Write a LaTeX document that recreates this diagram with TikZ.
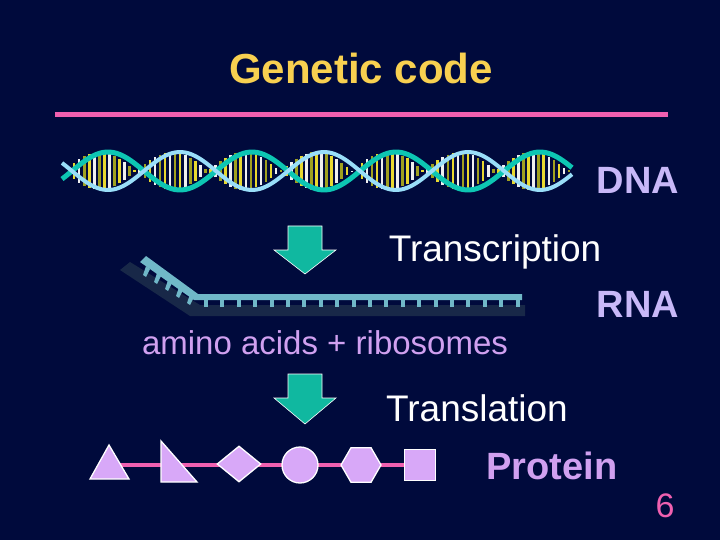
\documentclass[tikz,border=0pt]{standalone}
\usepackage{fontspec}
\setmainfont{Liberation Sans}
\usetikzlibrary{shapes.geometric}
\definecolor{bg}{HTML}{000A3C}
\definecolor{ttl}{HTML}{F8D050}
\definecolor{pinkl}{HTML}{F060B0}
\definecolor{lav}{HTML}{C8B8F8}
\definecolor{lav2}{HTML}{D0A0F0}
\definecolor{teal}{HTML}{10B8A0}
\definecolor{rna}{HTML}{70B8C8}
\definecolor{shad}{HTML}{182848}
\definecolor{prot}{HTML}{D8A8F8}
\definecolor{rung0}{HTML}{F0F0F0}
\definecolor{rung1}{HTML}{A0A020}
\definecolor{rung2}{HTML}{E8D830}
\begin{document}
\begin{tikzpicture}[x=1pt,y=-1pt,
  lbl/.style={font=\fontsize{38}{38}\selectfont\bfseries,inner sep=0},
  wlbl/.style={font=\fontsize{37}{37}\selectfont,text=white,inner sep=0},
  shp/.style={fill=prot,draw=white,line width=1.3pt,inner sep=0}]
\fill[bg] (0,0) rectangle (720,540);
\useasboundingbox (0,0) rectangle (720,540);
\node[lbl,text=ttl,font=\fontsize{42}{42}\selectfont\bfseries] (title) at (361,68) {Genetic code};
\draw[pinkl,line width=5pt] (55,115) -- (668,115);
% DNA helix
\foreach \i in {0,...,100}{
  \pgfmathsetmacro{\xx}{64+\i*5.05}
  \pgfmathsetmacro{\ya}{171+19*sin(\i*5.05*2.5)}
  \pgfmathsetmacro{\yb}{171-19*sin(\i*5.05*2.5)}
  \pgfmathtruncatemacro{\cc}{mod(\i,3)}
  \draw[rung\cc,line width=2.6pt] (\xx,\ya) -- (\xx,\yb);
}
\draw[teal!80!cyan,line width=5pt,domain=62:572,samples=150] plot (\x,{171+19*sin(\x*2.5)});
\draw[white!60!cyan,line width=4pt,domain=62:572,samples=150] plot (\x,{171-19*sin(\x*2.5)});
\node[lbl,text=lav] (dna) at (638,180) {DNA};
% arrows
\fill[teal,draw=white,line width=0.6pt] (288,226) -- (322,226) -- (322,250) -- (336,250) -- (305,274) -- (274,250) -- (288,250) -- cycle;
\node[wlbl] (tr) at (495,252) {Transcription};
% RNA
\fill[shad] (120,270) -- (130,262) -- (200,305) -- (525,305) -- (525,316) -- (190,316) -- cycle;
\fill[rna] (140,262) -- (146,256) -- (198,294) -- (522,294) -- (522,300) -- (194,300) -- cycle;
\foreach \k in {0,...,4}{\fill[rna] ({146+\k*11},{266+\k*7}) -- ++(4,3) -- ++(-4,8) -- ++(-3,-2) -- cycle;}
\foreach \k in {0,...,19}{\fill[rna] ({204+\k*16.4},300) rectangle ++(4,7);}
\node[lbl,text=lav] (rnal) at (638,304) {RNA};
\node[inner sep=0,text=lav2,font=\fontsize{33}{33}\selectfont] (aa) at (325,343) {amino acids + ribosomes};
\fill[teal,draw=white,line width=0.6pt] (288,374) -- (322,374) -- (322,398) -- (336,398) -- (305,424) -- (274,398) -- (288,398) -- cycle;
\node[wlbl] (tl) at (477,408) {Translation};
% protein
\draw[pinkl,line width=4.5pt] (110,465) -- (420,465);
\fill[shp,draw=white] (90,479) -- (109,445) -- (129,479) -- cycle;
\draw[white,line width=1.3pt,fill=prot] (161,441) -- (161,482) -- (197,482) -- cycle;
\node[shp,diamond,minimum width=44,minimum height=36] (d) at (239,464) {};
\node[shp,circle,minimum size=36] (c) at (300,465) {};
\node[shp,regular polygon,regular polygon sides=6,minimum size=40] (h) at (361,465) {};
\node[shp,rectangle,minimum size=31] (s) at (420,465) {};
\node[lbl,text=lav2] (prot) at (552,466) {Protein};
\node[inner sep=0,text=pinkl,font=\fontsize{34}{34}\selectfont] (six) at (665,506) {6};
\end{tikzpicture}
\end{document}
